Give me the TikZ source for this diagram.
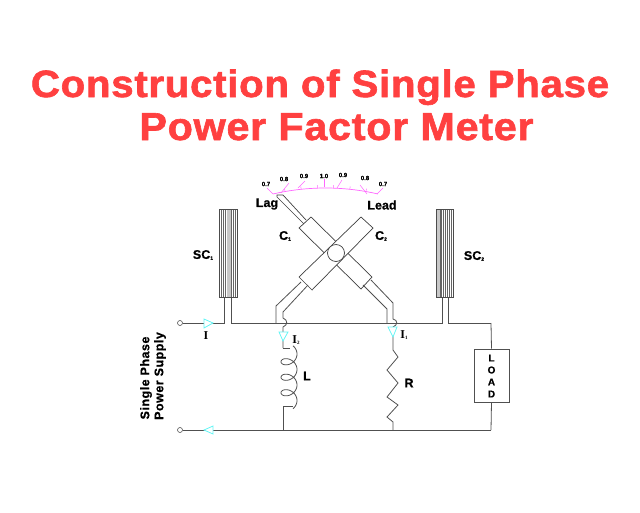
\documentclass[tikz,border=0pt]{standalone}
\usepackage{fontspec}
\setmainfont[BoldFeatures={FakeBold=0.6}]{Liberation Sans}
\newfontfamily\titlefont[LetterSpace=1.8,FakeStretch=1.06,BoldFeatures={FakeBold=1.6}]{Liberation Sans}
\newfontfamily\supplyfont[LetterSpace=4,BoldFeatures={FakeBold=0.6}]{Liberation Sans}
\newfontfamily\serifbit{Liberation Serif}
\definecolor{titlered}{HTML}{FF4040}
\definecolor{wirec}{HTML}{505050}
\definecolor{arrowc}{HTML}{66F5F5}
\definecolor{scalec}{HTML}{FF66FF}
\newcommand{\tinysub}[1]{\raisebox{-1pt}{\fontsize{5}{5}\selectfont #1}}
\tikzset{
	wire/.style={draw=wirec, line width=0.8pt},
	coilbox/.style={draw=black!75, line width=0.7pt},
	flow/.style={draw=arrowc, fill=white, line width=0.8pt},
	lbl/.style={font=\bfseries\fontsize{12.5}{12.5}\selectfont, inner sep=0pt},
	loadlbl/.style={font=\bfseries\fontsize{10}{10}\selectfont, inner sep=0pt},
	supplylbl/.style={font=\supplyfont\bfseries\fontsize{12.5}{12.5}\selectfont, inner sep=0pt, rotate=90},
	sublbl/.style={font=\serifbit\bfseries\fontsize{12}{12}\selectfont, inner sep=0pt},
	scalelbl/.style={font=\bfseries\fontsize{6}{6}\selectfont, inner sep=0pt},
	terminal/.style={circle, draw=wirec, line width=0.6pt, inner sep=0pt, minimum size=5pt},
	headline/.style={text=titlered, inner sep=0pt, anchor=base},
}
\begin{document}
\begin{tikzpicture}[x=1pt, y=-1pt]
		\useasboundingbox (0,0) rectangle (640,512);
		
		\node [headline, font=\titlefont\bfseries\fontsize{38}{38}\selectfont] (title1) at (320,97) {Construction of Single Phase};
		\node [headline, font=\titlefont\bfseries\fontsize{39}{39}\selectfont] (title2) at (336.5,140) {Power Factor Meter};
		
		% main wires
		\node [terminal] (inA) at (180,323) {};
		\node [terminal] (inB) at (180,430) {};
		\coordinate (scAin) at (224,323);
		\coordinate (scAout) at (231,323);
		\coordinate (scBin) at (442,323);
		\coordinate (scBout) at (448,323);
		\coordinate (cornerT) at (491,323);
		\coordinate (cornerB) at (491,430);
		\coordinate (lFoot) at (283,430);
		\coordinate (rFoot) at (393,430);
		
		\draw [wire] (inA) -- (scAin) -- (224,297);
		\draw [wire] (231,297) -- (scAout) -- (scBin) -- (442,297);
		\draw [wire] (448,297) -- (scBout) -- (cornerT);
		\draw [wire] (inB) -- (cornerB);
		
		% load
		\node [draw=wirec, line width=0.8pt, fill=white, minimum width=35pt, minimum height=53pt, inner sep=0pt] (load) at (491.5,375.5) {};
		\draw [wire] (cornerT) -- (load.north);
		\draw [wire] (load.south) -- (cornerB);
		\foreach \ch/\yy in {L/358, O/370, A/382, D/394}
			\node [loadlbl] (load\ch) at (491.5,\yy) {\ch};
		
		% series coils
		\foreach \xa/\xb/\xc/\xd in {219/237/227/231, 436/453/436/440} {
			\foreach \xx in {0,...,9}
				\draw [black!60, line width=0.4pt] ({\xa + \xx*(\xb-\xa)/9},209) -- ({\xa + \xx*(\xb-\xa)/9},297);
			\fill [black!22] (\xc,209) rectangle (\xd,297);
			\draw [black!70, line width=0.6pt] (\xa,209) rectangle (\xb,297);
		}
		
		% pointer
		\coordinate (tipL) at (277,195);
		\coordinate (tipR) at (283,195);
		\draw [coilbox] (304,224) -- (277,197) -- (tipL) -- (tipR) -- (306,220);
		
		% moving coils
		\coordinate (aA) at (311,217);
		\coordinate (aB) at (299,228);
		\coordinate (aC) at (361,289);
		\coordinate (aD) at (372,277);
		\coordinate (bA) at (361,217);
		\coordinate (bB) at (373,228);
		\coordinate (bC) at (312,290);
		\coordinate (bD) at (299,277);
		\draw [coilbox] (aA) -- (aB) -- (aC) -- (aD) -- cycle;
		\draw [coilbox, fill=white] (bA) -- (bB) -- (bC) -- (bD) -- cycle;
		\node [circle, draw=black!75, fill=white, line width=0.7pt, minimum size=17pt, inner sep=0pt] (pivot) at (336,253) {};
		
		% scale
		\coordinate (scaleC) at (325.5,421);
		\draw [scalec, line width=0.7pt] (scaleC) ++(-103:233) arc (-103:-77:233);
		\foreach \ang in {-100,-96,-92,-88,-84,-80}
			\draw [scalec, line width=0.5pt] (scaleC) ++(\ang:233) -- ++(\ang:3);
		\foreach \xa/\ya/\xb/\yb in {273/194/267/188, 281/193/289/183, 298/188/305/181, 324/187/324/179, 337/188/342/180, 367/194/360/185, 377/194/383/188}
			\draw [scalec, line width=0.5pt] (\xa,\ya) -- (\xb,\yb);
		\foreach \lab/\xx/\yy in {0.7/266/184, 0.8/284/179, 0.9/304/176, 1.0/324/176, 0.9/343/175, 0.8/365/178, 0.7/383/184}
			\node [scalelbl] at (\xx,\yy) {\lab};
		
		% leads
		\draw [wire] (301,282) -- (276,306) -- (276,323);
		\draw [wire] (308,285) -- (283,312) -- (283,318) .. controls (288,320) and (288,325) .. (283,327) -- (283,348);
		\draw [wire] (363,285) -- (387,309) -- (387,323);
		\draw [wire] (371,280) -- (393,303) -- (393,319) .. controls (398,320) and (398,325) .. (393,327) -- (393,350);
		
		% inductor and resistor
		\draw [wire] plot [smooth, domain=-60:1140, samples=120] ({289 + 8*cos(\x)}, {354 + 15.5*(\x/360) + 6.5*sin(\x)});
		\draw [wire] (283,348) -- (290,348);
		\draw [wire] (293,406) -- (283,406) -- (lFoot);
		\draw [wire] (393,350) -- (398,357) -- (387,370) -- (398,383) -- (387,397) -- (398,405) -- (387,417) -- (393,422) -- (rFoot);
		
		% current arrows
		\draw [flow] (204,319) -- (213,323) -- (204,328) -- cycle;
		\draw [flow] (213,426) -- (204,430) -- (213,434) -- cycle;
		\draw [flow] (279,332) -- (288,332) -- (283,341) -- cycle;
		\draw [flow] (388,327) -- (397,327) -- (393,337) -- cycle;
		
		% labels
		\node [sublbl] (iMain) at (206,336) {I};
		\node [sublbl] (iTwo) at (296,340) {I\tinysub{2}};
		\node [sublbl] (iOne) at (404,335) {I\tinysub{1}};
		\node [lbl] (lLabel) at (307,376) {L};
		\node [lbl] (rLabel) at (409,383) {R};
		\node [lbl] (scOne) at (203,255) {SC\tinysub{1}};
		\node [lbl] (scTwo) at (474,256) {SC\tinysub{2}};
		\node [lbl] (cOne) at (285,236) {C\tinysub{1}};
		\node [lbl] (cTwo) at (381,236) {C\tinysub{2}};
		\node [lbl] (lag) at (267,204) {Lag};
		\node [lbl] (lead) at (382,205) {Lead};
		\node [supplylbl] (supplyA) at (146,378) {Single Phase};
		\node [supplylbl] (supplyB) at (160,376) {Power Supply};
	\end{tikzpicture}
\end{document}
